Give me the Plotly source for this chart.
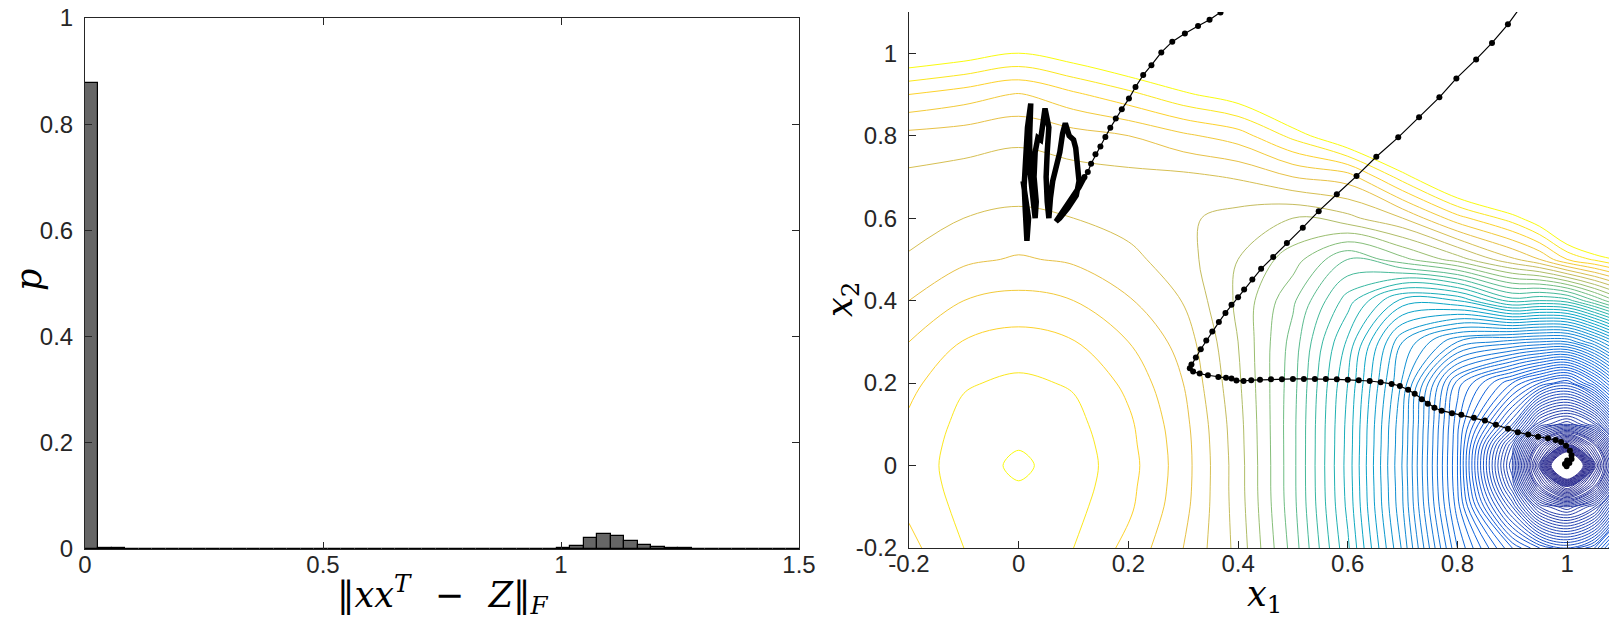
import numpy as np
import plotly.graph_objects as go

# ---------------- left panel: histogram of ||xx^T - Z||_F ----------------
bin_width = 0.02833
hist_p = [
    0.877, 0.0012, 0.0010, 0.0009, 0.0008, 0.0008, 0.0, 0.0007, 0.0, 0.0008,
    0.0007, 0.0, 0.0, 0.0006, 0.0007, 0.0, 0.0, 0.0004, 0.0006, 0.0005,
    0.0006, 0.0005, 0.0006, 0.0005, 0.0006, 0.0005, 0.0006, 0.0005, 0.0006, 0.0005,
    0.0006, 0.0006, 0.0007, 0.0008, 0.0008, 0.0012, 0.0050, 0.0200, 0.0286, 0.0250,
    0.0155, 0.0080, 0.0043, 0.0025, 0.0010, 0.0009, 0.0008, 0.0006, 0.0, 0.0,
    0.0004, 0.0003, 0.0003,
]
hist_x_ticks = [0, 0.5, 1, 1.5]
hist_x_labels = ["0", "0.5", "1", "1.5"]
hist_y_ticks = [0, 0.2, 0.4, 0.6, 0.8, 1]
hist_y_labels = ["0", "0.2", "0.4", "0.6", "0.8", "1"]

# ---------------- right panel: level map (contour index) ----------------
grid_x = [-0.2, -0.1, 0.0, 0.1, 0.2, 0.3, 0.4, 0.5, 0.6, 0.7, 0.8, 0.9, 0.95, 1.0, 1.05, 1.1]
grid_y = [-0.2, -0.1, -0.05, 0.0, 0.05, 0.1, 0.2, 0.3, 0.4, 0.5, 0.6, 0.7, 0.8, 0.9, 1.0, 1.1]
# one list per x column, values along grid_y (read as contour level index)
level_cols = [
    [83.7, 84.2, 84.3, 84.4, 84.3, 84.2, 83.7, 83.0, 82.0, 81.1, 80.6, 80.8, 81.7, 84.0, 87.1, 89.5],
    [85.0, 85.3, 85.45, 85.5, 85.45, 85.3, 84.9, 84.05, 83.0, 81.8, 81.0, 80.6, 81.5, 83.5, 86.6, 89.0],
    [85.2, 85.68, 85.93, 86.2, 85.93, 85.68, 85.2, 84.4, 83.3, 82.1, 81.2, 80.5, 81.2, 82.9, 86.0, 88.5],
    [85.0, 85.3, 85.45, 85.5, 85.45, 85.3, 84.9, 84.05, 83.0, 81.85, 81.0, 80.6, 81.6, 83.8, 86.7, 89.3],
    [83.7, 84.2, 84.3, 84.4, 84.3, 84.2, 83.75, 83.0, 82.1, 81.3, 80.6, 80.7, 82.0, 84.7, 87.7, 90.5],
    [82.0, 82.35, 82.45, 82.48, 82.45, 82.35, 82.0, 81.6, 80.95, 80.4, 80.2, 80.75, 82.8, 85.8, 88.5, 91.5],
    [79.7, 79.55, 79.5, 79.5, 79.45, 79.4, 79.2, 79.0, 78.8, 79.0, 79.6, 81.1, 83.5, 86.7, 90.0, 94.0],
    [75.6, 75.35, 75.3, 75.3, 75.3, 75.3, 75.4, 75.6, 76.2, 77.5, 79.0, 82.0, 85.3, 89.0, 93.0, 97.0],
    [70.2, 69.75, 69.65, 69.6, 69.65, 69.7, 70.0, 70.8, 72.5, 75.0, 79.7, 82.5, 87.5, 91.0, 95.0, 99.0],
    [62.8, 62.1, 62.0, 61.9, 62.0, 62.1, 62.8, 64.0, 68.6, 76.7, 81.0, 85.5, 90.0, 94.0, 98.0, 102.0],
    [53.0, 51.5, 51.1, 51.0, 51.1, 51.3, 52.5, 60.0, 69.0, 78.5, 83.6, 88.5, 93.0, 97.0, 101.0, 105.0],
    [46.0, 38.0, 34.0, 32.0, 34.0, 40.0, 47.0, 58.5, 72.5, 80.8, 85.5, 91.0, 96.0, 100.0, 104.0, 108.0],
    [43.0, 29.0, 20.0, 14.0, 20.0, 30.0, 44.0, 58.0, 72.0, 82.0, 87.0, 92.0, 97.0, 101.0, 105.0, 109.0],
    [41.0, 26.0, 10.0, -20.0, 10.0, 27.0, 42.0, 58.0, 72.5, 84.0, 89.5, 94.0, 99.0, 103.0, 107.0, 111.0],
    [44.0, 30.0, 20.0, 14.0, 20.0, 31.0, 47.0, 61.0, 75.0, 85.2, 92.0, 96.0, 101.0, 105.0, 109.0, 113.0],
    [52.0, 41.0, 35.0, 32.0, 35.0, 42.0, 54.0, 65.0, 77.6, 86.3, 94.0, 99.0, 104.0, 108.0, 112.0, 116.0],
]
level_min, level_max = 0, 86

# trajectory that reaches the global minimum
traj_b_x1 = [0.915, 0.892, 0.863, 0.834, 0.798, 0.767, 0.730, 0.692, 0.652, 0.616, 0.580, 0.547,
             0.518, 0.489, 0.464, 0.442, 0.426, 0.411, 0.400, 0.388, 0.377, 0.365, 0.353, 0.342,
             0.332, 0.323, 0.315, 0.312, 0.318, 0.330, 0.345, 0.364, 0.378, 0.388, 0.397, 0.410,
             0.424, 0.440, 0.460, 0.480, 0.500, 0.520, 0.540, 0.560, 0.580, 0.600, 0.620, 0.640,
             0.660, 0.680, 0.695, 0.710, 0.722, 0.735, 0.746, 0.758, 0.771, 0.790, 0.807, 0.830,
             0.850, 0.870, 0.892, 0.910, 0.929, 0.947, 0.965, 0.979, 0.989, 0.998, 1.005, 1.008,
             1.008, 1.004, 0.999, 0.996, 1.000]
traj_b_x2 = [1.112, 1.070, 1.025, 0.985, 0.939, 0.893, 0.845, 0.796, 0.749, 0.702, 0.658, 0.617,
             0.577, 0.540, 0.506, 0.477, 0.451, 0.427, 0.408, 0.390, 0.370, 0.348, 0.325, 0.303,
             0.282, 0.262, 0.245, 0.236, 0.228, 0.223, 0.219, 0.215, 0.213, 0.211, 0.206, 0.205,
             0.207, 0.208, 0.209, 0.209, 0.210, 0.210, 0.210, 0.210, 0.209, 0.208, 0.207, 0.205,
             0.202, 0.198, 0.193, 0.184, 0.174, 0.161, 0.150, 0.140, 0.133, 0.127, 0.123, 0.116,
             0.109, 0.099, 0.089, 0.081, 0.075, 0.070, 0.066, 0.062, 0.057, 0.048, 0.036, 0.025,
             0.016, 0.006, -0.002, 0.004, 0.012]

# trajectory that gets stuck at the spurious minimum
traj_a_x1 = [0.385, 0.368, 0.348, 0.327, 0.303, 0.280, 0.260, 0.242, 0.227, 0.213, 0.201, 0.188,
             0.177, 0.167, 0.158, 0.149, 0.140, 0.132, 0.126, 0.120]
traj_a_x2 = [1.115, 1.099, 1.081, 1.066, 1.048, 1.028, 1.002, 0.971, 0.947, 0.918, 0.890, 0.864,
             0.842, 0.819, 0.797, 0.774, 0.755, 0.732, 0.712, 0.700]
stuck_x1 = [0.120, 0.110, 0.095, 0.080, 0.068, 0.075, 0.090, 0.105, 0.110, 0.108, 0.104, 0.100,
            0.092, 0.085, 0.080, 0.075, 0.068, 0.062, 0.058, 0.055, 0.052, 0.050, 0.052, 0.055,
            0.048, 0.043, 0.040, 0.035, 0.030, 0.028, 0.032, 0.030, 0.025, 0.020, 0.020, 0.022,
            0.016, 0.012, 0.010, 0.012, 0.015, 0.018, 0.008]
stuck_x2 = [0.700, 0.675, 0.645, 0.615, 0.592, 0.600, 0.625, 0.655, 0.690, 0.730, 0.770, 0.790,
            0.800, 0.830, 0.805, 0.760, 0.720, 0.690, 0.650, 0.600, 0.640, 0.700, 0.760, 0.820,
            0.866, 0.820, 0.790, 0.795, 0.760, 0.700, 0.640, 0.600, 0.650, 0.720, 0.800, 0.878,
            0.820, 0.740, 0.680, 0.620, 0.545, 0.600, 0.690]

map_ticks = [-0.2, 0, 0.2, 0.4, 0.6, 0.8, 1]
map_labels = ["-0.2", "0", "0.2", "0.4", "0.6", "0.8", "1"]

# parula-like colours; levels are spaced geometrically so colour stops are too
parula = ["#352a87", "#0f5cdd", "#1481d6", "#06a4ca", "#2eb7a4",
          "#87bf77", "#d1bb59", "#fec832", "#f9fb0e"]


def parula_at(t):
    t = min(max(t, 0.0), 1.0) * (len(parula) - 1)
    i = min(int(t), len(parula) - 2)
    f = t - i
    a = [int(parula[i][k:k + 2], 16) for k in (1, 3, 5)]
    b = [int(parula[i + 1][k:k + 2], 16) for k in (1, 3, 5)]
    c = [round(a[j] + (b[j] - a[j]) * f) for j in range(3)]
    return "rgb(%d,%d,%d)" % tuple(c)


colorscale = []
for s in np.linspace(0, 1, 44):
    k = level_min + s * (level_max - level_min)
    colorscale.append([float(s), parula_at(1.054 ** (k - level_max))])

W, H = 1617, 621
axis_col = "#262626"
tick_font = dict(family="Liberation Sans, Arial, sans-serif", size=24, color=axis_col)
label_font = dict(family="DejaVu Serif, serif", size=35, color="black")

fig = go.Figure()

fig.add_trace(go.Bar(
    x=(np.arange(len(hist_p)) + 0.5) * bin_width,
    y=hist_p,
    width=bin_width,
    marker=dict(color="#666666", line=dict(color="black", width=1.2)),
    xaxis="x", yaxis="y", hoverinfo="skip",
))

fig.add_trace(go.Contour(
    x=grid_x, y=grid_y, z=np.array(level_cols).T,
    contours=dict(coloring="lines", start=level_min, end=level_max, size=1),
    line=dict(width=1, smoothing=1.0),
    colorscale=colorscale, zmin=level_min, zmax=level_max, zauto=False,
    showscale=False, xaxis="x2", yaxis="y2", hoverinfo="skip",
))

fig.add_trace(go.Scatter(
    x=stuck_x1, y=stuck_x2, mode="lines",
    line=dict(color="black", width=5.5),
    xaxis="x2", yaxis="y2", hoverinfo="skip",
))
for tx, ty in [(traj_a_x1, traj_a_x2), (traj_b_x1, traj_b_x2)]:
    fig.add_trace(go.Scatter(
        x=tx, y=ty, mode="lines+markers",
        line=dict(color="black", width=1.2),
        marker=dict(color="black", size=6),
        xaxis="x2", yaxis="y2", hoverinfo="skip",
    ))

common = dict(showgrid=False, zeroline=False, showline=True, linecolor=axis_col,
              linewidth=1, ticks="inside", ticklen=7, tickcolor=axis_col,
              tickfont=tick_font, tickmode="array", automargin=False,
              ticklabeloverflow="allow")

fig.update_layout(
    template="none",
    width=W, height=H,
    margin=dict(l=0, r=0, t=0, b=0, pad=0),
    paper_bgcolor="white", plot_bgcolor="white",
    showlegend=False,
    bargap=0,
    xaxis=dict(domain=[77 / W, 791 / W], range=[0, 1.5], tickvals=hist_x_ticks,
               ticktext=hist_x_labels, mirror="ticks", anchor="y",
               ticklabelstandoff=-6, **common),
    yaxis=dict(domain=[(H - 541) / H, (H - 10) / H], range=[0, 1], tickvals=hist_y_ticks,
               ticktext=hist_y_labels, mirror="ticks", anchor="x",
               ticklabelstandoff=6, **common),
    xaxis2=dict(domain=[901 / W, 1614 / W], range=[-0.2, 1.1], tickvals=map_ticks,
                ticktext=map_labels, anchor="y2", ticklabelstandoff=-6, **common),
    yaxis2=dict(domain=[(H - 540) / H, (H - 4) / H], range=[-0.2, 1.1], tickvals=map_ticks,
                ticktext=map_labels, anchor="x2", ticklabelstandoff=6, **common),
)

labels = [
    ("<i>p</i>", 21, 272, -90),
    ("\u2016<i>xx</i><sup><i>T</i></sup>\u2002\u2009\u2212\u2002\u2009<i>Z</i>\u2016<sub><i>F</i></sub>", 434, 586, 0),
    ("<i>x</i><sub>2</sub>", 834, 292, -90),
    ("<i>x</i><sub>1</sub>", 1256, 588, 0),
]
for text, px, py, ang in labels:
    fig.add_annotation(text=text, x=px / W, y=1 - py / H, xref="paper", yref="paper",
                       xanchor="center", yanchor="middle", showarrow=False,
                       textangle=ang, font=label_font)

fig.write_html("out.html")
